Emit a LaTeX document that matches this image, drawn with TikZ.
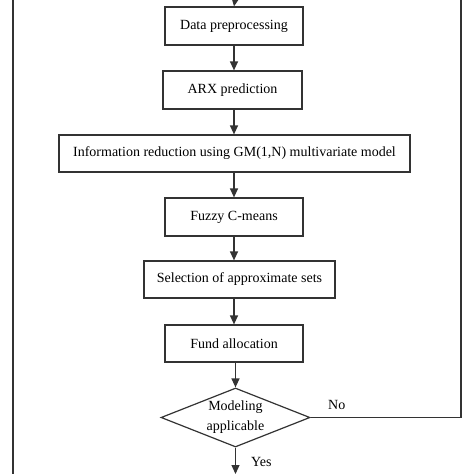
\documentclass[tikz,border=0pt]{standalone}
\usepackage{fontspec}
\setmainfont{Liberation Serif}
\usetikzlibrary{shapes.geometric,arrows.meta}
\begin{document}
\begin{tikzpicture}[x=1pt,y=-1pt,
  ln/.style={draw=black!80, line width=1.2pt},
  arr/.style={ln, -{Triangle[length=9pt,width=8pt]}},
  stepbox/.style={ln, rectangle, inner sep=0pt, font=\fontsize{14}{16}\selectfont},
  dec/.style={ln, diamond, aspect=2.53, inner sep=-2pt, minimum width=149pt, minimum height=59pt, align=center, font=\fontsize{14}{20}\selectfont},
  lbl/.style={font=\fontsize{14}{16}\selectfont, inner sep=0pt}]
\useasboundingbox (0,0) rectangle (474,474);
\fill[white] (0,0) rectangle (474,474);
\node[stepbox, minimum width=138pt, minimum height=38pt] (dp) at (234,26) {Data preprocessing};
\node[stepbox, minimum width=139pt, minimum height=38pt] (arx) at (232.5,90) {ARX prediction};
\node[stepbox, minimum width=351pt, minimum height=37pt] (gm) at (234.5,153.5) {Information reduction using GM(1,N) multivariate model};
\node[stepbox, minimum width=138pt, minimum height=38pt] (fcm) at (234,217) {Fuzzy C-means};
\node[stepbox, minimum width=191pt, minimum height=37pt] (sel) at (239.5,279.5) {Selection of approximate sets};
\node[stepbox, minimum width=138pt, minimum height=37pt] (fund) at (234,343.5) {Fund allocation};
\node[dec] (dia) at (235.5,417.5) {Modeling\\applicable};
\coordinate (topin) at (235,0);
\coordinate (bot) at (235.5,474);
\coordinate (rb) at (461,417.5);
\coordinate (rt) at (461,0);
\coordinate (lt) at (13,0);
\coordinate (lb) at (13,474);
\draw[arr] (topin) -- (dp.north);
\draw[arr] (dp.south) -- (dp.south |- arx.north);
\draw[arr] (arx.south -| dp.south) -- (dp.south |- gm.north);
\draw[arr] (gm.south -| dp.south) -- (fcm.north);
\draw[arr] (fcm.south) -- (fcm.south |- sel.north);
\draw[arr] (sel.south -| fcm.south) -- (fund.north);
\draw[arr] (fund.south -| dia.north) -- (dia.north);
\draw[arr] (dia.south) -- (bot);
\draw[ln] (dia.east) -- (rb) -- (rt);
\draw[ln] (lt) -- (lb);
\node[lbl, anchor=west] (no) at (328,405) {No};
\node[lbl, anchor=west] (yes) at (251,462) {Yes};
\end{tikzpicture}
\end{document}
